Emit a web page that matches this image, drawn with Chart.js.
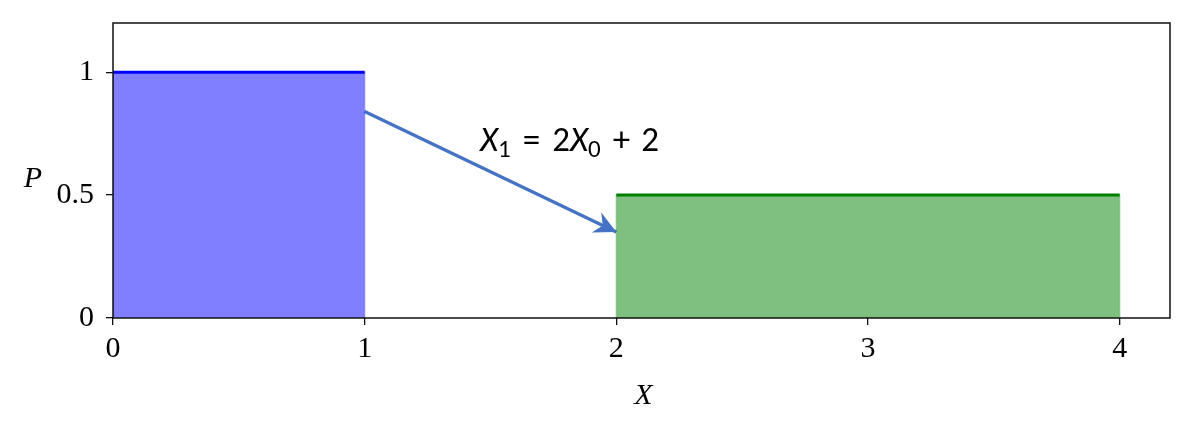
<!DOCTYPE html>
<html>
<head>
<meta charset="utf-8">
<script src="https://cdn.jsdelivr.net/npm/chart.js@4.4.1/dist/chart.umd.min.js"></script>
<style>
  html, body { margin: 0; padding: 0; background: #fff; }
  #wrap { width: 1200px; height: 427px; }
</style>
</head>
<body>
<div id="wrap"><canvas id="grafico"></canvas></div>
<script>
// dados das duas densidades uniformes
const blueX = [0, 0, 1, 1];
const blueP = [0, 1, 1, 0];
const greenX = [2, 2, 4, 4];
const greenP = [0, 0.5, 0.5, 0];
// seta da transformação X1 = 2X0 + 2
const arrowX = [1, 2];
const arrowP = [0.84, 0.35];
// marcas dos eixos
const xTicks = [0, 1, 2, 3, 4];
const pTicks = [0, 0.5, 1];

const pts = (xs, ys) => xs.map((x, i) => ({ x: x, y: ys[i] }));

const serif = "'Liberation Serif', 'Times New Roman', serif";

// desenha moldura, ponta da seta e textos
const extras = {
  id: 'extras',
  afterDatasetsDraw(chart) {
    const { ctx, chartArea: a, scales } = chart;
    ctx.save();

    // moldura do gráfico
    ctx.strokeStyle = '#111';
    ctx.lineWidth = 1.5;
    ctx.strokeRect(a.left, a.top, a.right - a.left, a.bottom - a.top);

    // ponta da seta (estilo "stealth")
    const meta = chart.getDatasetMeta(4);
    const p0 = meta.data[0], p1 = meta.data[1];
    const dx = p1.x - p0.x, dy = p1.y - p0.y;
    const len = Math.hypot(dx, dy);
    const ux = dx / len, uy = dy / len;
    const nx = -uy, ny = ux;
    const L = 22, W = 11, notch = 15;
    ctx.fillStyle = '#4472C4';
    ctx.beginPath();
    ctx.moveTo(p1.x, p1.y);
    ctx.lineTo(p1.x - L * ux + W * nx, p1.y - L * uy + W * ny);
    ctx.lineTo(p1.x - notch * ux, p1.y - notch * uy);
    ctx.lineTo(p1.x - L * ux - W * nx, p1.y - L * uy - W * ny);
    ctx.closePath();
    ctx.fill();

    // rótulo da transformação (gap = espaço antes do pedaço, em px)
    const tx = scales.x.getPixelForValue(1.458);
    const ty = scales.y.getPixelForValue(0.679);
    const parts = [
      { t: 'X', f: 'italic 35px Carlito', dy: 0, gap: 0 },
      { t: '1', f: '25px Carlito', dy: 6, gap: 0 },
      { t: '=', f: '35px Carlito', dy: 0, gap: 12 },
      { t: '2', f: '35px Carlito', dy: 0, gap: 12 },
      { t: 'X', f: 'italic 35px Carlito', dy: 0, gap: 0 },
      { t: '0', f: '25px Carlito', dy: 6, gap: 0 },
      { t: '+', f: '35px Carlito', dy: 0, gap: 12 },
      { t: '2', f: '35px Carlito', dy: 0, gap: 11 }
    ];
    ctx.fillStyle = '#000';
    ctx.textBaseline = 'alphabetic';
    ctx.textAlign = 'left';
    let cx = tx;
    parts.forEach(p => {
      ctx.font = p.f;
      cx += p.gap;
      ctx.fillText(p.t, cx, ty + p.dy);
      cx += ctx.measureText(p.t).width;
    });

    // títulos dos eixos
    ctx.font = 'italic 30px ' + serif;
    ctx.textAlign = 'center';
    ctx.textBaseline = 'middle';
    ctx.fillText('P', 33, 179);
    ctx.fillText('X', (a.left + a.right) / 2 + 2, 396);

    ctx.restore();
  }
};

const ctx = document.getElementById('grafico').getContext('2d');
const config = {
  type: 'scatter',
  data: {
    datasets: [
      {
        data: pts(blueX, blueP),
        showLine: true,
        fill: 'origin',
        backgroundColor: 'rgba(0, 0, 255, 0.5)',
        borderColor: 'rgba(0, 0, 255, 0.3)',
        borderWidth: 1.5,
        pointRadius: 0
      },
      {
        data: pts(blueX.slice(1, 3), blueP.slice(1, 3)),
        showLine: true,
        borderColor: '#0000ff',
        borderWidth: 3,
        pointRadius: 0
      },
      {
        data: pts(greenX, greenP),
        showLine: true,
        fill: 'origin',
        backgroundColor: 'rgba(0, 128, 0, 0.5)',
        borderColor: 'rgba(0, 128, 0, 0.3)',
        borderWidth: 1.5,
        pointRadius: 0
      },
      {
        data: pts(greenX.slice(1, 3), greenP.slice(1, 3)),
        showLine: true,
        borderColor: '#008000',
        borderWidth: 3,
        pointRadius: 0
      },
      {
        data: pts(arrowX, arrowP),
        showLine: true,
        borderColor: '#4472C4',
        borderWidth: 3.2,
        pointRadius: 0
      }
    ]
  },
  options: {
    responsive: true,
    maintainAspectRatio: false,
    animation: false,
    layout: { padding: { top: 23, right: 30, left: 0, bottom: 0 } },
    plugins: {
      legend: { display: false },
      tooltip: { enabled: false }
    },
    scales: {
      x: {
        type: 'linear',
        min: 0,
        max: 4.2,
        afterBuildTicks: s => { s.ticks = xTicks.map(v => ({ value: v })); },
        afterFit: s => { s.height = 109; s.paddingLeft = 0; s.paddingRight = 0; },
        grid: { drawOnChartArea: false, tickLength: 7, color: '#111', lineWidth: 1.3 },
        border: { display: false },
        ticks: {
          color: '#000',
          font: { family: serif, size: 30 },
          padding: 6,
          maxRotation: 0,
          callback: v => String(v)
        }
      },
      y: {
        type: 'linear',
        min: 0,
        max: 1.2,
        afterBuildTicks: s => { s.ticks = pTicks.map(v => ({ value: v })); },
        afterFit: s => { s.width = 113; s.paddingTop = 0; s.paddingBottom = 0; },
        grid: { drawOnChartArea: false, tickLength: 7, color: '#111', lineWidth: 1.3 },
        border: { display: false },
        ticks: {
          color: '#000',
          font: { family: serif, size: 30 },
          padding: 12,
          callback: v => String(v)
        }
      }
    }
  },
  plugins: [extras]
};
const grafico = new Chart(ctx, config);
</script>
</body>
</html>
